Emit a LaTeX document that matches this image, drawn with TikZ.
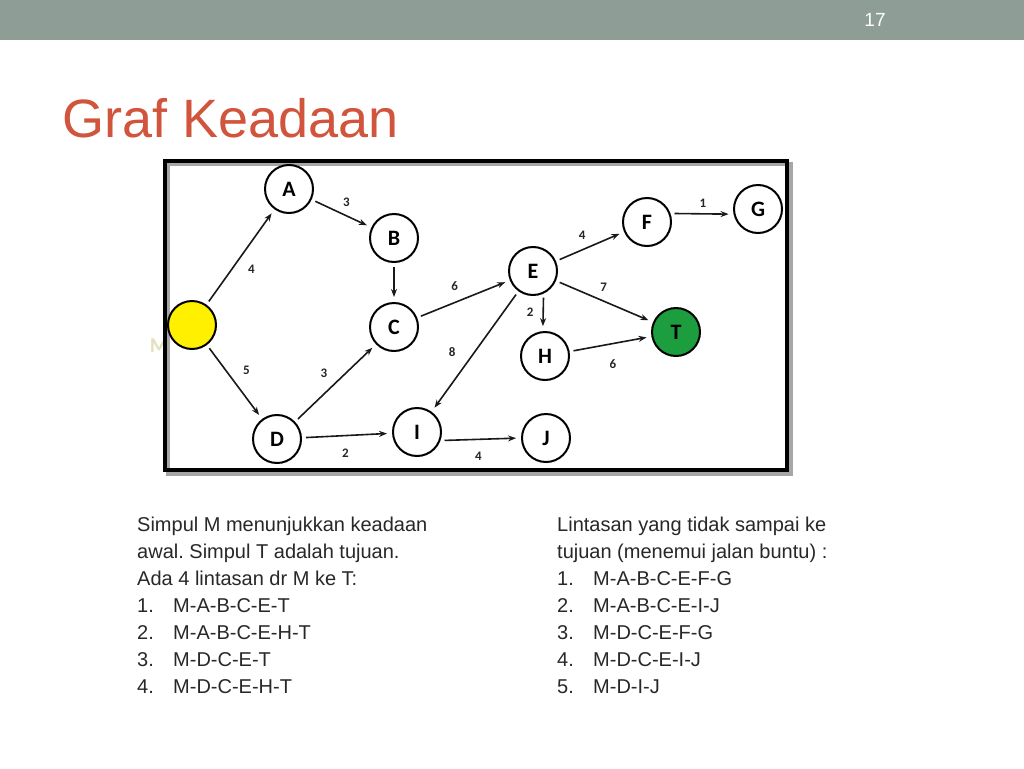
\documentclass[tikz,border=0pt]{standalone}
\usepackage{fontspec}
\setmainfont{Liberation Sans}
\newfontfamily\graffont{Carlito}
\usetikzlibrary{positioning, arrows, arrows.meta}
\frenchspacing

\definecolor{barcolor}{RGB}{142,158,150}
\definecolor{titlecolor}{RGB}{209,84,60}
\definecolor{textgray}{RGB}{40,40,40}
\definecolor{startyellow}{RGB}{255,240,0}
\definecolor{goalgreen}{RGB}{28,158,62}
\definecolor{fadedlabel}{RGB}{228,224,190}

\begin{document}
\begin{tikzpicture}[x=1pt, y=-1pt]
	\tikzset{
	>={Stealth[length=8pt, width=6pt]}, % arrow heads of the edges
	simpul/.style={circle, draw, line width=2pt, minimum size=48pt, inner sep=0pt, fill=white, font=\graffont\bfseries\fontsize{22}{22}\selectfont}, % every vertex
	bobot/.style={font=\graffont\bfseries\fontsize{13}{13}\selectfont, inner sep=1pt, text=black!85}, % edge weights
	busur/.style={draw, ->, line width=1.6pt, black!90, shorten <=4pt, shorten >=5pt}, % directed edges
	teks/.style={anchor=base west, align=left, text=textgray, inner sep=0pt, font=\fontsize{20}{27}\selectfont} % text under the graph, placed by its last line
	}
	\useasboundingbox[fill=white] (0,0) rectangle (1024,768);

	% slide header
	\fill[barcolor] (0,0) rectangle (1024,40);
	\node[text=white, font=\fontsize{19}{19}\selectfont] (nomor) at (875,20) {17};
	\node[anchor=base west, inner sep=0pt, text=titlecolor, font=\fontsize{54}{54}\selectfont] (judul) at (62,137) {Graf Keadaan};

	% faded label of the start vertex, partly under the frame
	\node[text=fadedlabel, font=\graffont\bfseries\fontsize{21}{21}\selectfont] (labm) at (159,346) {M};

	% frame round the graph
	\draw[line width=4pt, black!35] (168,164) rectangle (791,474);
	\draw[line width=4pt] (165,161) rectangle (787,470);

	\node[simpul, fill=startyellow] (m) at (192,325) {};
	\node[simpul] (a) at (289,189) {A};
	\node[simpul] (b) at (394,238) {B};
	\node[simpul, below=39pt of b] (c) {C};
	\node[simpul] (d) at (277,439) {D};
	\node[simpul] (e) at (533,271) {E};
	\node[simpul] (f) at (647,222) {F};
	\node[simpul] (g) at (758,209) {G};
	\node[simpul] (h) at (545,356) {H};
	\node[simpul, fill=goalgreen] (t) at (676,332) {T};
	\node[simpul] (i) at (417,432) {I};
	\node[simpul] (j) at (546,438) {J};

	\path[every edge/.style=busur]
	(m) edge node[bobot, pos=0.47, xshift=13pt, yshift=-9pt] {4} (a)
	(a) edge node[bobot, pos=0.5, xshift=5pt, yshift=11pt] {3} (b)
	(b) edge (c)
	(c) edge node[bobot, pos=0.47, xshift=-6pt, yshift=14pt] {6} (e)
	(m) edge node[bobot, pos=0.48, xshift=13pt, yshift=10pt] {5} (d)
	(d) edge node[bobot, pos=0.48, xshift=-10pt, yshift=11pt] {3} (c)
	(d) edge node[bobot, pos=0.47, xshift=1pt, yshift=-18pt] {2} (i)
	(e) edge node[bobot, pos=0.59, xshift=-15pt, yshift=10pt] {8} (i)
	(i.-20) edge node[bobot, pos=0.47, yshift=-17pt] {4} (j.west)
	(e) edge node[bobot, pos=0.46, xshift=-5pt, yshift=12pt] {4} (f)
	(e) edge node[bobot, pos=0.44, xshift=5pt, yshift=12pt] {7} (t)
	(e.-65) edge node[bobot, pos=0.5, xshift=-13pt] {2} (h.95)
	(h) edge node[bobot, pos=0.48, xshift=4pt, yshift=-20pt] {6} (t)
	(f.20) edge node[bobot, pos=0.5, xshift=1pt, yshift=11pt] {1} (g.192)
	;

	% explanation
	\node[teks] (jalur) at (137,693) {Simpul M menunjukkan keadaan\\awal. Simpul T adalah tujuan.\\Ada 4 lintasan dr M ke T:\\
	\makebox[36pt][l]{1.}M-A-B-C-E-T\\\makebox[36pt][l]{2.}M-A-B-C-E-H-T\\
	\makebox[36pt][l]{3.}M-D-C-E-T\\\makebox[36pt][l]{4.}M-D-C-E-H-T};
	\node[teks] (buntu) at (557,693) {Lintasan yang tidak sampai ke\\tujuan (menemui jalan buntu) :\\
	\makebox[36pt][l]{1.}M-A-B-C-E-F-G\\\makebox[36pt][l]{2.}M-A-B-C-E-I-J\\
	\makebox[36pt][l]{3.}M-D-C-E-F-G\\\makebox[36pt][l]{4.}M-D-C-E-I-J\\\makebox[36pt][l]{5.}M-D-I-J};
\end{tikzpicture}
\end{document}
